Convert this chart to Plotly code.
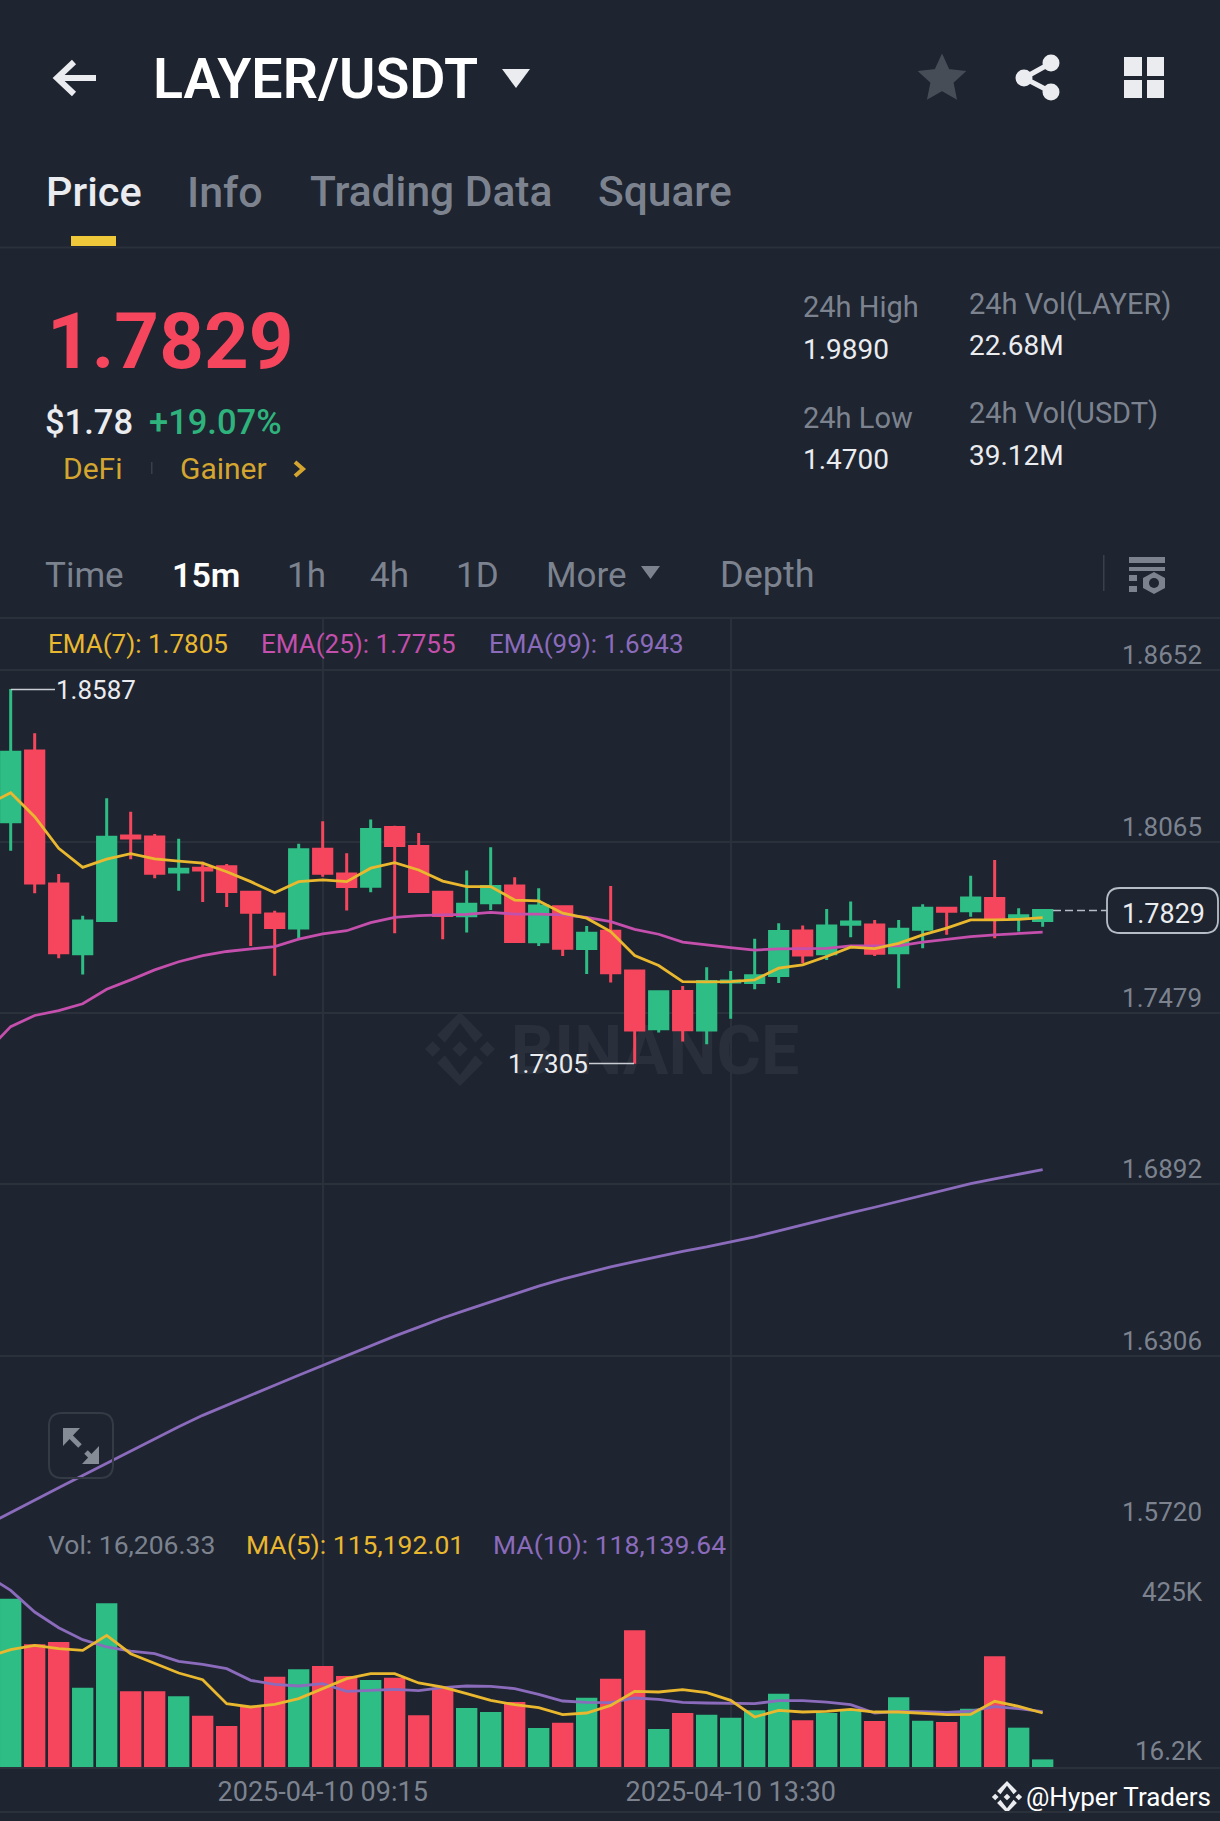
import math

import pandas as pd
import plotly.graph_objects as go
from plotly.subplots import make_subplots

W = 1220
H = 1821

opens = [1.8133, 1.8375, 1.7920, 1.7681, 1.7795, 1.8084, 1.8081, 1.7961, 1.7974, 1.7979, 1.7892,
         1.7817, 1.7769, 1.8039, 1.7954, 1.7912, 1.8113, 1.8048, 1.7892, 1.7811, 1.7856, 1.7913,
         1.7722, 1.7842, 1.7699, 1.7758, 1.7622, 1.7425, 1.7552, 1.7420, 1.7585, 1.7583, 1.7607,
         1.7759, 1.7681, 1.7782, 1.7780, 1.7685, 1.7765, 1.7837, 1.7828, 1.7870, 1.7803, 1.7795]
highs = [1.8587, 1.8436, 1.7954, 1.7811, 1.8213, 1.8167, 1.8091, 1.8075, 1.7996, 1.7988, 1.7892,
         1.7828, 1.8058, 1.8135, 1.8025, 1.8141, 1.8119, 1.8094, 1.7892, 1.7966, 1.8046, 1.7943,
         1.7905, 1.7842, 1.7776, 1.7913, 1.7622, 1.7555, 1.7571, 1.7635, 1.7622, 1.7733, 1.7786,
         1.7778, 1.7834, 1.7860, 1.7797, 1.7797, 1.7851, 1.7837, 1.7948, 1.8002, 1.7837, 1.7834]
lows = [1.8034, 1.7888, 1.7666, 1.7610, 1.7795, 1.8005, 1.7940, 1.7897, 1.7858, 1.7841, 1.7708,
        1.7606, 1.7734, 1.7945, 1.7829, 1.7892, 1.7751, 1.7894, 1.7731, 1.7754, 1.7831, 1.7719,
        1.7708, 1.7674, 1.7612, 1.7583, 1.7305, 1.7412, 1.7381, 1.7372, 1.7459, 1.7560, 1.7581,
        1.7649, 1.7660, 1.7738, 1.7674, 1.7563, 1.7700, 1.7746, 1.7808, 1.7734, 1.7757, 1.7774]
closes = [1.8371, 1.7923, 1.7685, 1.7793, 1.8080, 1.8077, 1.7957, 1.7970, 1.7968, 1.7894, 1.7823,
          1.7771, 1.8037, 1.7957, 1.7911, 1.8106, 1.8052, 1.7894, 1.7812, 1.7851, 1.7911, 1.7723,
          1.7845, 1.7700, 1.7751, 1.7616, 1.7420, 1.7551, 1.7421, 1.7586, 1.7588, 1.7606, 1.7757,
          1.7677, 1.7776, 1.7790, 1.7683, 1.7765, 1.7837, 1.7827, 1.7872, 1.7803, 1.7811, 1.7829]
volumes = [359000, 261600, 266600, 169200, 349100, 161400, 161400, 150700, 109500, 87500, 128000,
           192700, 208300, 215400, 194100, 185600, 190500, 110200, 169200, 125800, 117300, 138600,
           83200, 94600, 147900, 188400, 291500, 81100, 115200, 111600, 105200, 120900, 156400,
           99500, 115200, 122300, 98100, 148600, 98800, 96000, 124400, 236100, 83900, 16206]

# line series start one candle earlier, they run in from off the left edge
ema7 = [1.8190, 1.8232, 1.8150, 1.8042, 1.7977, 1.8005, 1.8024, 1.8006, 1.7998, 1.7991, 1.7962,
        1.7928, 1.7890, 1.7928, 1.7934, 1.7928, 1.7974, 1.7993, 1.7968, 1.7930, 1.7911, 1.7911,
        1.7865, 1.7862, 1.7820, 1.7803, 1.7757, 1.7675, 1.7641, 1.7586, 1.7585, 1.7586, 1.7592,
        1.7632, 1.7643, 1.7672, 1.7704, 1.7699, 1.7717, 1.7746, 1.7769, 1.7797, 1.7797, 1.7799,
        1.7805]
ema25 = [1.7346, 1.7432, 1.7470, 1.7487, 1.7510, 1.7560, 1.7592, 1.7626, 1.7654, 1.7675, 1.7689,
         1.7698, 1.7706, 1.7731, 1.7749, 1.7760, 1.7788, 1.7806, 1.7812, 1.7814, 1.7816, 1.7823,
         1.7817, 1.7817, 1.7814, 1.7806, 1.7791, 1.7765, 1.7748, 1.7721, 1.7711, 1.7702, 1.7694,
         1.7698, 1.7699, 1.7700, 1.7708, 1.7708, 1.7708, 1.7721, 1.7731, 1.7740, 1.7746, 1.7750,
         1.7755]
ema99 = [1.5727, 1.5770, 1.5813, 1.5854, 1.5896, 1.5938, 1.5980, 1.6022, 1.6063, 1.6102, 1.6137,
         1.6171, 1.6205, 1.6239, 1.6273, 1.6306, 1.6340, 1.6373, 1.6404, 1.6435, 1.6463, 1.6490,
         1.6517, 1.6544, 1.6568, 1.6590, 1.6610, 1.6628, 1.6646, 1.6663, 1.6678, 1.6695, 1.6713,
         1.6733, 1.6754, 1.6775, 1.6795, 1.6814, 1.6834, 1.6854, 1.6875, 1.6895, 1.6911, 1.6927,
         1.6943]
ma5 = [234600, 250300, 259500, 252400, 248900, 280800, 241700, 220400, 200500, 186300, 135100,
       128000, 133700, 145800, 167100, 188400, 199100, 199100, 179200, 170600, 156400, 142200,
       133000, 126600, 111600, 115200, 131500, 161400, 160000, 165000, 158600, 142200, 106700,
       120900, 117300, 118700, 123000, 117300, 117300, 115200, 111600, 112300, 140100, 129400,
       115192]
ma10 = [408800, 376800, 330600, 297200, 271600, 256000, 247400, 241700, 225400, 219000, 209700,
        184900, 176300, 172800, 177800, 161400, 163500, 165700, 162800, 169200, 172800, 172100,
        167100, 155000, 140800, 137900, 137200, 147200, 144300, 137900, 136500, 135100, 135100,
        141500, 141500, 138600, 133000, 115200, 118700, 118000, 116600, 119400, 128700, 124400,
        118139]

price_ticks = [1.8652, 1.8065, 1.7479, 1.6892, 1.6306, 1.5720]
date_ticks = ["2025-04-10 09:15", "2025-04-10 13:30"]
volume_labels = ["425K", "16.2K"]
last_price = 1.7829
high_mark = 1.8587
low_mark = 1.7305

candle_times = pd.date_range("2025-04-10 06:00", periods=len(closes), freq="15min")
line_times = pd.date_range("2025-04-10 05:45", periods=len(ema7), freq="15min")

BG = "#1E2430"
GRID = "#2B313B"
RED = "#F6465D"
GREEN = "#2EBD85"
YELLOW = "#E9B82F"
PINK = "#C44FAC"
PURPLE = "#8B6BBB"
WHITE = "#EAECEF"
GREY = "#7C838F"
FONT = "Roboto"


def px(x):
    return x / W


def py(y):
    return 1 - y / H


def path(points, close=True):
    s = "M " + " L ".join(f"{px(a):.5f},{py(b):.5f}" for a, b in points)
    return s + (" Z" if close else "")


fig = make_subplots(rows=2, cols=1, shared_xaxes=True, vertical_spacing=0, row_heights=[0.8, 0.2])

fig.add_trace(
    go.Candlestick(
        x=candle_times,
        open=opens,
        high=highs,
        low=lows,
        close=closes,
        increasing=dict(line=dict(color=GREEN, width=3), fillcolor=GREEN),
        decreasing=dict(line=dict(color=RED, width=3), fillcolor=RED),
        whiskerwidth=0,
    ),
    row=1,
    col=1,
)
for series, color in [(ema99, PURPLE), (ema25, PINK), (ema7, YELLOW)]:
    fig.add_trace(
        go.Scatter(x=line_times, y=series, mode="lines", line=dict(color=color, width=2.8)),
        row=1,
        col=1,
    )

bar_colors = [GREEN if c >= o else RED for o, c in zip(opens, closes)]
fig.add_trace(go.Bar(x=candle_times, y=volumes, marker_color=bar_colors, marker_line_width=0), row=2, col=1)
for series, color in [(ma10, PURPLE), (ma5, YELLOW)]:
    fig.add_trace(
        go.Scatter(x=line_times, y=series, mode="lines", line=dict(color=color, width=2.8)),
        row=2,
        col=1,
    )

shapes = []
annotations = []


def text(s, x, y, size, color, anchor="left", weight=400):
    annotations.append(
        dict(
            text=s,
            x=px(x),
            y=py(y),
            xref="paper",
            yref="paper",
            xanchor=anchor,
            yanchor="middle",
            showarrow=False,
            borderpad=0,
            font=dict(family=FONT, size=size, color=color, weight=weight),
        )
    )


def fill(points, color, layer="above"):
    shapes.append(dict(type="path", path=path(points), fillcolor=color, line_width=0,
                       xref="paper", yref="paper", layer=layer))


def stroke(points, color, width, dash="solid", layer="above"):
    shapes.append(dict(type="path", path=path(points, close=False), line=dict(color=color, width=width, dash=dash),
                       xref="paper", yref="paper", layer=layer))


def rect(x0, y0, x1, y1, color):
    fill([(x0, y0), (x1, y0), (x1, y1), (x0, y1)], color)


def rounded(x0, y0, x1, y1, r, color, width):
    shapes.append(
        dict(
            type="path",
            path=(
                f"M {px(x0 + r)},{py(y0)} L {px(x1 - r)},{py(y0)} Q {px(x1)},{py(y0)} {px(x1)},{py(y0 + r)} "
                f"L {px(x1)},{py(y1 - r)} Q {px(x1)},{py(y1)} {px(x1 - r)},{py(y1)} "
                f"L {px(x0 + r)},{py(y1)} Q {px(x0)},{py(y1)} {px(x0)},{py(y1 - r)} "
                f"L {px(x0)},{py(y0 + r)} Q {px(x0)},{py(y0)} {px(x0 + r)},{py(y0)} Z"
            ),
            line=dict(color=color, width=width),
            xref="paper",
            yref="paper",
        )
    )


def logo(cx, cy, r, color, layer="above"):
    d = r * 0.21
    gap = r * 0.62
    for dx, dy in [(0, 0), (-gap - d * 0.55, 0), (gap + d * 0.55, 0)]:
        fill([(cx + dx - d, cy + dy), (cx + dx, cy + dy - d), (cx + dx + d, cy + dy), (cx + dx, cy + dy + d)], color, layer)
    t = r * 0.3
    fill([(cx, cy - r), (cx + r * 0.62, cy - r * 0.38), (cx + r * 0.62 - t * 0.7, cy - r * 0.38 + t * 0.7),
          (cx, cy - r + t), (cx - r * 0.62 + t * 0.7, cy - r * 0.38 + t * 0.7), (cx - r * 0.62, cy - r * 0.38)], color, layer)
    fill([(cx, cy + r), (cx + r * 0.62, cy + r * 0.38), (cx + r * 0.62 - t * 0.7, cy + r * 0.38 - t * 0.7),
          (cx, cy + r - t), (cx - r * 0.62 + t * 0.7, cy + r * 0.38 - t * 0.7), (cx - r * 0.62, cy + r * 0.38)], color, layer)


# header
stroke([(96, 78), (56, 78)], WHITE, 6)
stroke([(74, 62), (57, 78), (74, 94)], WHITE, 6)
text("LAYER/USDT", 152, 80, 55.5, "#FFFFFF", weight=600)
fill([(502, 69), (530, 69), (516, 88)], WHITE)

star = []
for k in range(10):
    rad = 22 if k % 2 == 0 else 10.5
    ang = -math.pi / 2 + k * math.pi / 5
    star.append((942 + rad * math.cos(ang), 79 + rad * math.sin(ang)))
shapes.append(dict(type="path", path=path(star), fillcolor="#474D57", line=dict(color="#474D57", width=3),
                   xref="paper", yref="paper"))

stroke([(1051, 63), (1024, 78), (1051, 92)], WHITE, 5)
for cx, cy in [(1051, 63), (1024, 78), (1051, 92)]:
    shapes.append(dict(type="circle", x0=px(cx - 8.5), x1=px(cx + 8.5), y0=py(cy - 8.5), y1=py(cy + 8.5),
                       fillcolor=WHITE, line_width=0, xref="paper", yref="paper"))
rect(1124, 57, 1142, 76, WHITE)
rect(1147, 57, 1164, 76, WHITE)
rect(1124, 80, 1142, 98, WHITE)
rect(1147, 80, 1164, 98, WHITE)

# tabs
text("Price", 45, 192, 41.5, WHITE, weight=500)
text("Info", 186, 192, 43, GREY, weight=500)
text("Trading Data", 309, 192, 42.5, GREY, weight=500)
text("Square", 597, 192, 42.5, GREY, weight=500)
rect(71, 236, 116, 246, "#F0C93A")
rect(0, 246.5, W, 248.5, GRID)

# price block
text("1.7829", 46, 341, 78, RED, weight=700)
text("$1.78", 44, 422, 34.5, WHITE, weight=500)
text("+19.07%", 148, 422, 34.5, "#2FB37C", weight=500)
text("DeFi", 62, 468, 30, "#D4A62F")
rect(151, 462, 152.5, 474, "#3A404B")
text("Gainer", 179, 468, 30, "#D4A62F")
stroke([(295, 462), (303, 469), (295, 476)], "#D4A62F", 4)

text("24h High", 802, 307, 29, GREY)
text("1.9890", 802, 349, 28, WHITE)
text("24h Low", 802, 418, 29, GREY)
text("1.4700", 802, 459, 28, WHITE)
text("24h Vol(LAYER)", 968, 304, 29, GREY)
text("22.68M", 968, 346, 28, WHITE)
text("24h Vol(USDT)", 968, 413, 29, GREY)
text("39.12M", 968, 456, 28, WHITE)

# timeframe bar
text("Time", 44, 575, 35, GREY)
text("15m", 171, 575, 34, "#FFFFFF", weight=600)
text("1h", 286, 575, 35, GREY)
text("4h", 369, 575, 35, GREY)
text("1D", 455, 575, 35, GREY)
text("More", 545, 575, 35, GREY)
fill([(641, 566), (660, 566), (650.5, 579)], GREY)
text("Depth", 719, 575, 36, GREY)
rect(1103, 555, 1104.5, 591, "#3A404B")
rect(1129, 557, 1165, 563, GREY)
rect(1129, 567, 1165, 571, GREY)
rect(1129, 575, 1137, 581, GREY)
rect(1129, 586, 1137, 592, GREY)
fill([(1154, 572), (1165, 578), (1165, 588), (1154, 594), (1143, 588), (1143, 578)], GREY)
shapes.append(dict(type="circle", x0=px(1149), x1=px(1159), y0=py(578), y1=py(588), fillcolor=BG, line_width=0,
                   xref="paper", yref="paper"))

# indicator labels
text("EMA(7): 1.7805", 47, 644, 26, YELLOW)
text("EMA(25): 1.7755", 260, 644, 26, PINK)
text("EMA(99): 1.6943", 488, 644, 26, PURPLE)
text("Vol: 16,206.33", 47, 1544, 26.5, GREY)
text("MA(5): 115,192.01", 245, 1544, 26.5, YELLOW)
text("MA(10): 118,139.64", 492, 1544, 26.5, PURPLE)
text(volume_labels[0], 1204, 1592, 26, GREY, anchor="right")
text(volume_labels[1], 1204, 1751, 26, GREY, anchor="right")

# extreme markers and last price
stroke([(11, 689.5), (55, 689.5)], "#C9CDD3", 1.5)
text(f"{high_mark:.4f}", 55, 690, 26, WHITE)
stroke([(589, 1063.5), (634, 1063.5)], "#C9CDD3", 1.5)
text(f"{low_mark:.4f}", 507, 1064, 26, WHITE)
stroke([(1053, 910.5), (1107, 910.5)], "#B7BDC6", 1.5, dash="8px,4px")
rounded(1107, 888, 1218, 933, 13, "#B7BDC6", 1.8)
text(f"{last_price:.4f}", 1163, 914, 27, WHITE, anchor="center")

# expand button
rounded(49, 1413, 113, 1478, 13, "#353B45", 2)
stroke([(70, 1436), (80, 1446)], "#868C96", 5)
stroke([(86, 1452), (96, 1462)], "#868C96", 5)
fill([(63, 1428), (80, 1428), (63, 1446)], "#868C96")
fill([(99, 1464), (82, 1464), (99, 1446)], "#868C96")

# watermarks
logo(460, 1049, 37, "#2A303B", layer="below")
shapes.append(
    dict(
        type="rect",
        x0=px(505),
        x1=px(805),
        y0=py(1016),
        y1=py(1076),
        xref="paper",
        yref="paper",
        layer="below",
        line_width=0,
        fillcolor="rgba(0,0,0,0)",
        label=dict(text="BINANCE", font=dict(family=FONT, size=68, color="#2A303B", weight=700),
                   textposition="middle center"),
    )
)
logo(1007, 1797, 16, WHITE)
text("@Hyper Traders", 1025, 1797, 26, "#FFFFFF")

# chart frame
rect(0, 617, W, 619, GRID)
rect(0, 1811, W, 1813, GRID)

fig.update_layout(
    width=W,
    height=H,
    margin=dict(l=0, r=0, t=0, b=0),
    paper_bgcolor=BG,
    plot_bgcolor=BG,
    showlegend=False,
    hovermode=False,
    boxgap=0.24,
    boxgroupgap=0,
    bargap=0.11,
    shapes=shapes,
    annotations=annotations,
    font=dict(family=FONT),
)
x_range = ["2025-04-10 05:53:19", "2025-04-10 18:35:50"]
fig.update_xaxes(
    range=x_range,
    type="date",
    rangeslider_visible=False,
    tickvals=date_ticks,
    tickformat="%Y-%m-%d %H:%M",
    showgrid=True,
    gridcolor=GRID,
    gridwidth=1.5,
    zeroline=False,
    ticks="",
    tickfont=dict(family=FONT, size=27, color=GREY),
)
fig.update_xaxes(showticklabels=False, row=1, col=1)
fig.update_xaxes(showline=True, linecolor=GRID, linewidth=1.5, row=2, col=1)
fig.update_yaxes(
    domain=[py(1527), py(618)],
    range=[1.5720, 1.8830],
    side="right",
    tickvals=price_ticks,
    tickformat=".4f",
    ticklabelposition="inside top",
    ticklabelstandoff=15,
    ticklabelshift=3,
    ticks="",
    showgrid=True,
    gridcolor=GRID,
    gridwidth=1.5,
    zeroline=False,
    tickfont=dict(family=FONT, size=26, color=GREY),
    row=1,
    col=1,
)
fig.update_yaxes(
    domain=[py(1767), py(1527)],
    range=[0, 512000],
    side="right",
    showticklabels=False,
    showgrid=False,
    zeroline=False,
    ticks="",
    row=2,
    col=1,
)

fig.write_html(
    "out.html",
    config=dict(displayModeBar=False),
    post_script="document.body.style.margin='0';document.body.style.overflow='hidden';document.body.style.background='#1E2430';",
)
